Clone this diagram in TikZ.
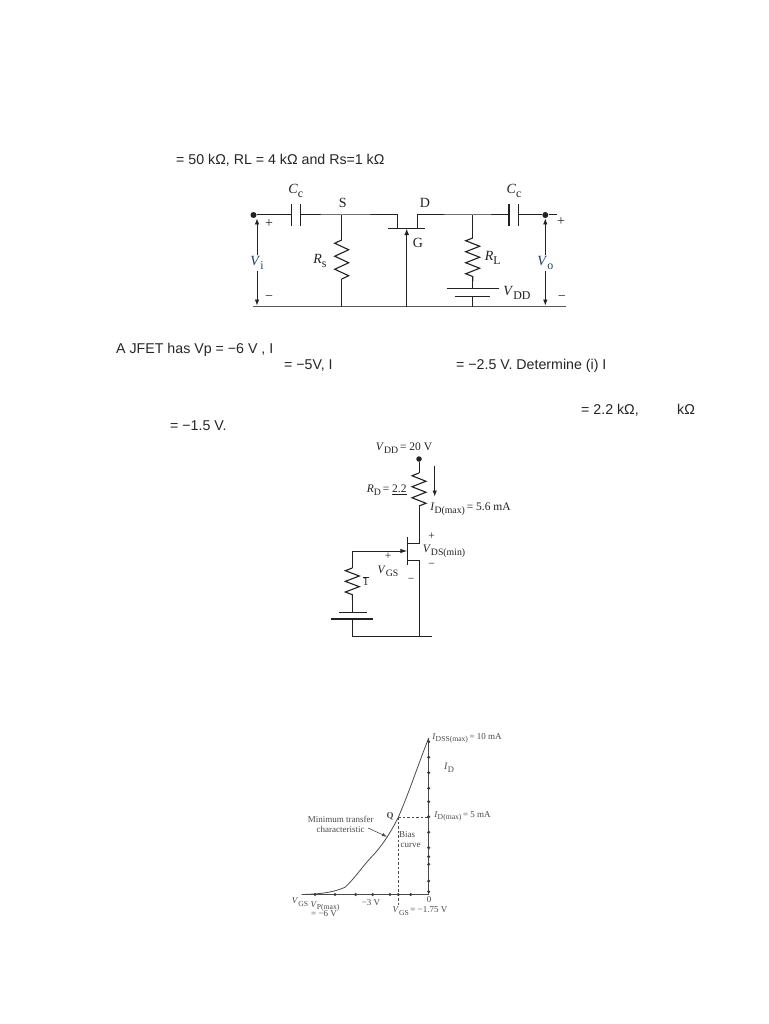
\documentclass[tikz,border=0pt]{standalone}
\usepackage{fontspec}
\setmainfont{Liberation Serif}
\newfontfamily\bodyfont{Liberation Sans}
\usetikzlibrary{decorations.pathmorphing,arrows.meta}
\newcommand{\lowsub}[1]{\raisebox{-0.25em}{\scalebox{0.85}{#1}}}
\definecolor{ink}{HTML}{222222}
\definecolor{fade}{HTML}{4A4A4A}
\definecolor{bluev}{HTML}{1F3F6F}
\tikzset{
  wire/.style={draw=ink,line width=1pt},
  plate/.style={draw=ink,line width=1.5pt},
  rail/.style={draw=ink!75,line width=1.4pt},
  res/.style={draw=ink,line width=1.1pt,decorate,decoration={zigzag,segment length=13pt,amplitude=7pt}},
  res2/.style={draw=ink,line width=1.1pt,decorate,decoration={zigzag,segment length=11pt,amplitude=7pt}},
  arr/.style={draw=ink,line width=0.8pt,-{Latex[length=6pt,width=4.5pt]}},
  dot/.style={circle,fill=ink,inner sep=0pt,minimum size=6pt},
  lab/.style={inner sep=0.5pt,text=ink,font=\fontsize{14}{14}\selectfont},
  smalllab/.style={inner sep=0.5pt,text=ink,font=\fontsize{11.5}{11.5}\selectfont},
  body/.style={inner sep=0pt,anchor=west,text height=10pt,text depth=3pt,text=black!85,font=\bodyfont\fontsize{14.2}{14.2}\selectfont},
  gwire/.style={draw=fade,line width=1pt},
  gdash/.style={draw=fade,line width=1pt,dashed,dash pattern=on 2.5pt off 2pt},
  tick/.style={circle,fill=fade!80!black,inner sep=0pt,minimum size=3.4pt},
  glab/.style={inner sep=0pt,text=fade,font=\fontsize{9}{9}\selectfont},
}
\begin{document}
\begin{tikzpicture}[x=1pt,y=-1pt]
\useasboundingbox[fill=white] (0,0) rectangle (768,1024);
% body text
\node[body] (t1) at (176,161) {= 50 kΩ, RL = 4 kΩ and Rs=1 kΩ};
\node[body] (t2) at (116,350) {A JFET has Vp = −6 V , I};
\node[body] (t3) at (284,365.5) {= −5V, I};
\node[body] (t4) at (456,365.5) {= −2.5 V. Determine (i) I};
\node[body] (t5) at (581,411) {= 2.2 kΩ,};
\node[body] (t6) at (677,411) {kΩ};
\node[body] (t7) at (170,427) {= −1.5 V.};
% ---- circuit 1
\node[dot] (in) at (253.5,215) {};
\node[dot] (out) at (545.3,215) {};
\coordinate (c1a) at (291.7,215); \coordinate (c1b) at (300.7,215);
\coordinate (c1at) at (291.7,204); \coordinate (c1ab) at (291.7,226);
\coordinate (c1bt) at (300.7,204); \coordinate (c1bb) at (300.7,226);
\coordinate (c2a) at (509,215); \coordinate (c2b) at (518.5,215);
\coordinate (c2at) at (509,204); \coordinate (c2ab) at (509,226);
\coordinate (c2bt) at (518.5,204); \coordinate (c2bb) at (518.5,226);
\coordinate (sj) at (341.7,215); \coordinate (dj) at (472.7,215);
\coordinate (st) at (397.3,215); \coordinate (sb) at (397.3,228.5);
\coordinate (dt) at (417.7,215); \coordinate (db) at (417.7,228.5);
\coordinate (gl) at (388,228.5); \coordinate (gr) at (425,228.5);
\coordinate (gm) at (406.7,228.5); \coordinate (gb) at (406.7,306.5);
\coordinate (railL) at (253,306.5); \coordinate (railR) at (566,306.5);
\coordinate (end) at (557,215);
\coordinate (rs1) at (341.7,240); \coordinate (rs2) at (341.7,279); \coordinate (rs3) at (341.7,306.5);
\coordinate (rl1) at (472.7,238); \coordinate (rl2) at (472.7,281);
\coordinate (b1) at (472.7,288.3); \coordinate (b1l) at (447,288.3); \coordinate (b1r) at (498.7,288.3);
\coordinate (b2) at (472.7,296.7); \coordinate (b2l) at (455,296.7); \coordinate (b2r) at (490,296.7);
\coordinate (b3) at (472.7,306.5);
\coordinate (vit) at (257,218.5); \coordinate (vib) at (257,305.5);
\coordinate (vot) at (545.3,218.5); \coordinate (vob) at (545.3,305.5);
\draw[wire] (in) -- (c1a) (c1b) -- (sj) -- (st) -- (sb);
\draw[plate] (c1at) -- (c1ab) (c1bt) -- (c1bb);
\draw[wire] (db) -- (dt) -- (dj) -- (c2a) (c2b) -- (out) -- (end);
\draw[plate] (c2at) -- (c2ab) (c2bt) -- (c2bb);
\draw[wire] (gl) -- (gr) (sb) -- (gl) (db) -- (gr);
\draw[rail] (railL) -- (railR);
\draw[draw=ink,line width=1.4pt,-{Latex[length=6.5pt,width=5pt]}] (gb) -- (gm);
\draw[wire] (sj) -- (rs1) (rs2) -- (rs3);
\draw[res,decoration={mirror}] (rs1) -- (rs2);
\draw[wire] (dj) -- (rl1) (rl2) -- (b1);
\draw[res2,decoration={mirror}] (rl1) -- (rl2);
\draw[wire,line width=1.2pt] (b1l) -- (b1r) (b2l) -- (b2r);
\draw[wire] (b2) -- (b3);
\node[lab] (ccl) at (295.7,191) {\textit{C}\lowsub{c}};
\node[lab] (ccr) at (514,191) {\textit{C}\lowsub{c}};
\node[lab] (ls) at (342.7,203) {S};
\node[lab] (ld) at (425,203) {D};
\node[lab] (lg) at (418,243) {G};
\node[lab] (lrs) at (320,261) {\textit{R}\lowsub{s}};
\node[lab] (lrl) at (492.7,258) {\textit{R}\lowsub{L}};
\node[lab] (lvdd) at (517,293) {\textit{V}\lowsub{DD}};
\node[lab,fill=white,text=bluev,inner sep=1pt] (vi) at (257,263) {\textit{V}\lowsub{i}};
\node[lab,fill=white,text=bluev,inner sep=1pt] (vo) at (545.3,263) {\textit{V}\lowsub{o}};
\node[lab] (p1) at (269,224) {+};
\node[lab] (m1) at (269,298) {−};
\node[lab] (p2) at (561,222) {+};
\node[lab] (m2) at (561.7,298.5) {−};
\draw[arr] (vi) -- (vit); \draw[arr] (vi) -- (vib);
\draw[arr] (vo) -- (vot); \draw[arr] (vo) -- (vob);
% ---- circuit 2
\node[dot,minimum size=5.5pt] (vdd) at (419,459) {};
\coordinate (rd1) at (419,473); \coordinate (rd2) at (419,506);
\coordinate (dc) at (419,543.3); \coordinate (dc2) at (407.3,543.3);
\coordinate (sc) at (419,560); \coordinate (sc2) at (407.3,560);
\coordinate (chT) at (407.3,536.7); \coordinate (chB) at (407.3,565);
\coordinate (gt) at (407.3,551); \coordinate (gc) at (352.3,551);
\coordinate (bl) at (352.3,636); \coordinate (br) at (431.7,636); \coordinate (bm) at (419,636);
\coordinate (r11) at (352.3,568); \coordinate (r12) at (352.3,600);
\coordinate (p11) at (352.3,612.3); \coordinate (p1l) at (339,612.3); \coordinate (p1r) at (366.7,612.3);
\coordinate (p21) at (352.3,619); \coordinate (p2l) at (330.7,619); \coordinate (p2r) at (373.3,619);
\coordinate (ia) at (434.7,465.7); \coordinate (ib) at (434.7,496.5);
\draw[wire] (vdd) -- (rd1) (rd2) -- (dc) -- (dc2) (sc2) -- (sc) -- (bm);
\draw[res2,decoration={segment length=11pt,mirror}] (rd1) -- (rd2);
\draw[wire,line width=1.3pt] (chT) -- (chB);
\draw[wire] (bl) -- (br);
\draw[wire] (r11) -- (gc);
\draw[draw=ink,line width=0.9pt,-{Latex[length=7pt,width=4.5pt]}] (gc) -- (gt);
\draw[res2,decoration={segment length=10.67pt,mirror}] (r11) -- (r12);
\draw[wire] (r12) -- (p11) (p21) -- (bl);
\draw[wire,line width=1.2pt] (p1l) -- (p1r) (p2l) -- (p2r);
\draw[arr] (ia) -- (ib);
\node[smalllab] (lvd) at (404,448) {\textit{V}\lowsub{DD}\,= 20 V};
\node[smalllab] (lrd) at (386.7,490) {\textit{R}\lowsub{D}\,= \underline{2.2}};
\node[smalllab] (lid) at (470.5,509) {\textit{I}\lowsub{D(max)}\,= 5.6 mA};
\node[smalllab] (lp3) at (431.7,536.7) {+};
\node[smalllab] (lvds) at (444,551.7) {\textit{V}\lowsub{DS(min)}};
\node[smalllab] (lm3) at (431.7,565) {−};
\node[smalllab] (lp4) at (388,556.7) {+};
\node[smalllab] (lvgs) at (388,571) {\textit{V}\lowsub{GS}};
\node[smalllab] (lm4) at (411,580) {−};
\node[smalllab] (lone) at (365.7,581) {$\overline{\mbox{1}}$};
% ---- graph
\coordinate (org) at (428.7,894.5); \coordinate (top) at (428.7,738); \coordinate (left) at (301.7,894.5);
\coordinate (qq) at (398.3,817.3); \coordinate (qy) at (428.7,817.3); \coordinate (qx) at (398.3,905);
\draw[gwire] (org) -- (top);
\draw[gwire] (left) -- (org);
\draw[gwire,line width=0.8pt] (left) .. controls (325,894) and (335,891.5) .. (345,887.3)
  .. controls (355,878) and (362,867) .. (371.7,856.7)
  .. controls (383,845) and (392,830) .. (398.3,817.3)
  .. controls (410,790) and (418,765) .. (top);
\draw[gdash] (qq) -- (qy) (qq) -- (qx);
\foreach \n/\y in {a/741.7,b/757.3,c/772.7,d/788.3,e/801.7,f/816.7,g/832.3,h/847.7,i/856.7,j/864.3,k/881,l/891.7}
  \node[tick] (ty\n) at (428.7,\y) {};
\foreach \n/\x in {a/315,b/335,c/355.7,d/372.7,e/390,f/398.3,g/410.7}
  \node[tick] (tx\n) at (\x,894.5) {};
\node[glab] (g1) at (467,738.5) {\textit{I}\lowsub{DSS(max)}\,= 10 mA};
\node[glab,font=\fontsize{10}{10}\selectfont] (g2) at (449,767.7) {\textit{I}\lowsub{D}};
\node[glab,font=\bfseries\fontsize{9}{9}\selectfont] (g3) at (390,816) {Q};
\node[glab] (g4) at (462.5,816) {\textit{I}\lowsub{D(max)}\,= 5 mA};
\node[glab] (g5) at (340.7,819.7) {Minimum transfer};
\node[glab] (g6) at (340.7,829.7) {characteristic};
\node[glab] (g7) at (407,835) {Bias};
\node[glab] (g8) at (410.7,845) {curve};
\node[glab] (g9) at (300,902) {\textit{V}\lowsub{GS}};
\node[glab] (g10) at (325,906.5) {\textit{V}\lowsub{P(max)}};
\node[glab] (g11) at (324,913.5) {= −6 V};
\node[glab] (g12) at (371,903) {−3 V};
\node[glab] (g13) at (429,900) {0};
\node[glab] (g14) at (420,911) {\textit{V}\lowsub{GS}\,= −1.75 V};
\coordinate (ma) at (368,828); \coordinate (mb) at (387,836.7);
\draw[draw=fade,line width=0.6pt,-{Latex[length=5pt,width=3.5pt]}] (ma) -- (mb);
\end{tikzpicture}
\end{document}
